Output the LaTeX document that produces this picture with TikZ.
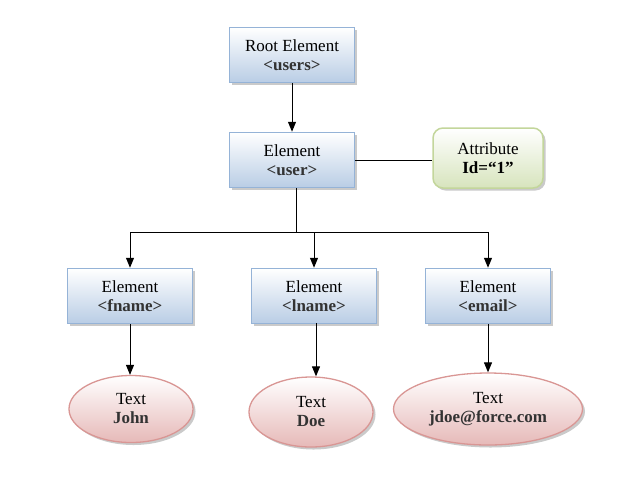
\documentclass[tikz,border=0pt]{standalone}
\usepackage{fontspec}
\setmainfont{Liberation Serif}
\usetikzlibrary{shadows,arrows.meta,shapes.geometric}
\definecolor{elemborder}{HTML}{95B3D7}
\definecolor{elemfill}{HTML}{B9CDE5}
\definecolor{attrborder}{HTML}{C3D69B}
\definecolor{attrfill}{HTML}{D7E4BD}
\definecolor{txtborder}{HTML}{D99694}
\definecolor{txtfill}{HTML}{E6B9B8}
\definecolor{darktxt}{HTML}{333333}
\tikzset{
  every node/.style={font=\fontsize{17}{19}\selectfont, align=center, inner sep=0pt},
  shadowed/.style={drop shadow={shadow xshift=2.5pt, shadow yshift=-2.5pt, fill=gray!70, opacity=0.6}},
  elembox/.style={rectangle, draw=elemborder, line width=1.5pt, top color=white, bottom color=elemfill,
    minimum width=125pt, minimum height=55pt, shadowed},
  attrbox/.style={rectangle, rounded corners=10pt, draw=attrborder, line width=1.5pt, top color=white, bottom color=attrfill,
    minimum width=110pt, minimum height=60pt, shadowed},
  txtell/.style={ellipse, draw=txtborder, line width=1.3pt, top color=white, bottom color=txtfill, shadowed},
  conn/.style={line width=1pt, black},
  arr/.style={conn, -{Triangle[length=10pt,width=8pt]}},
}
\newcommand{\lineb}[1]{\textcolor{darktxt}{\textbf{#1}}}
\begin{document}
\begin{tikzpicture}[x=1pt,y=-1pt]
\useasboundingbox (0,0) rectangle (631,491);
\node[elembox] (root) at (292,55) {Root Element\\\lineb{<users>}};
\node[elembox] (user) at (292,160) {Element\\\lineb{<user>}};
\node[attrbox] (attr) at (488,158) {Attribute\\\textbf{Id=“1”}};
\node[elembox] (fname) at (130,296) {Element\\\lineb{<fname>}};
\node[elembox] (lname) at (314,296) {Element\\\lineb{<lname>}};
\node[elembox] (email) at (488,296) {Element\\\lineb{<email>}};
\node[txtell, minimum width=124pt, minimum height=67pt] (john) at (131,409) {Text\\\lineb{John}};
\node[txtell, minimum width=124pt, minimum height=70pt] (doe) at (311,412) {Text\\\lineb{Doe}};
\node[txtell, minimum width=189pt, minimum height=72pt] (mail) at (488,409) {Text\\\lineb{jdoe@force.com}};
\coordinate (split) at (296,232);
\coordinate (left) at (130,232);
\coordinate (right) at (488,232);
\coordinate (dtop) at (316,323);
\draw[arr] (root.south) -- (root.south |- user.north);
\draw[conn] (user.east) -- (attr.west |- user.east);
\draw[conn] (split |- user.south) -- (split);
\draw[conn] (left) -- (right);
\draw[arr] (left) -- (left |- fname.north);
\draw[arr] (lname.north |- split) -- (lname.north);
\draw[arr] (right) -- (right |- email.north);
\draw[arr] (fname.south) -- (fname.south |- john.north);
\draw[arr] (dtop) -- (dtop |- doe.north);
\draw[arr] (email.south) -- (mail.north);
\end{tikzpicture}
\end{document}
